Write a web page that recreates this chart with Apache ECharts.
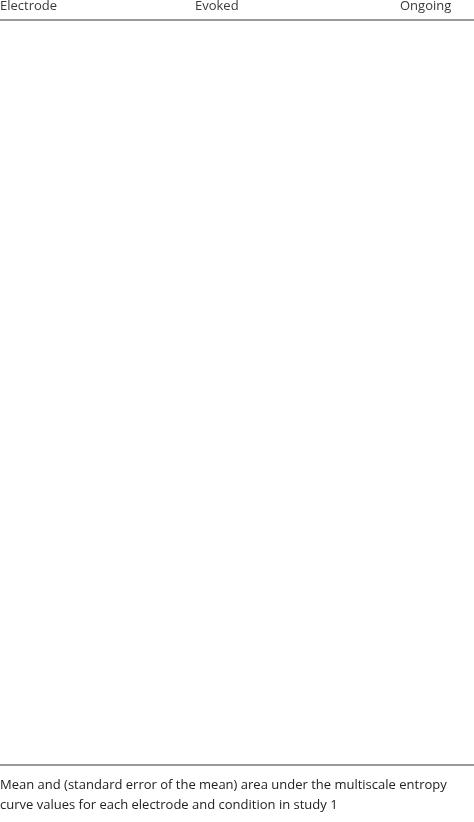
<!DOCTYPE html>
<html><head><meta charset="utf-8">
<script src="https://cdn.jsdelivr.net/npm/echarts@6/dist/echarts.min.js"></script>
<style>html,body{margin:0;padding:0;background:#fff}#c{width:474px;height:822px}</style>
</head><body><div id="c"></div>
<script>
const headers = ['Electrode','Evoked','Ongoing'];
const electrodes = ['FP1','FP2','F9','F7','F3','FZ','F4','F8','F10','FC5','FC6','T7','C3','CZ','C4','T8','TP9','CP5','CP6','TP10','P7','P3','PZ','P4','P8','O1','O2'];
const evoked = ['89.61 (1.58)','89.46 (1.56)','85.26 (1.55)','89.04 (1.66)','89.27 (1.72)','90.62 (1.38)','91.43 (1.51)','89.71 (1.55)','86.56 (1.45)','91.11 (1.51)','92.39 (1.83)','87.66 (1.83)','86.21 (1.66)','89.00 (1.54)','88.88 (1.79)','91.71 (1.87)','90.44 (1.56)','94.04 (1.24)','93.38 (1.41)','88.46 (1.63)','94.45 (1.51)','90.18 (1.52)','88.10 (1.59)','90.47 (1.50)','95.20 (1.26)','91.69 (1.27)','92.23 (1.14)'];
const ongoing = ['89.20 (1.59)','89.92 (1.46)','84.71 (1.69)','89.49 (1.55)','89.43 (1.70)','90.22 (1.48)','92.38 (1.66)','89.63 (1.53)','84.51 (1.51)','92.11 (1.75)','91.82 (1.73)','88.25 (1.85)','86.31 (1.68)','88.87 (1.64)','89.02 (1.69)','89.52 (1.91)','93.29 (1.57)','93.00 (1.28)','93.48 (1.47)','92.67 (1.45)','95.20 (1.51)','87.76 (1.44)','87.66 (1.74)','88.41 (1.65)','95.77 (1.22)','92.36 (0.99)','92.14 (1.15)'];
const caption = 'Mean and (standard error of the mean) area under the multiscale entropy\ncurve values for each electrode and condition in study 1';

const colX = [0, 195, 400];
const cols = [electrodes, evoked, ongoing];
const txtColor = '#3a3a3a';
const chart = echarts.init(document.getElementById('c'));
const n = electrodes.length;
const rowH = 27.6;
const gridTop = 20;
chart.setOption({
  animation:false,
  grid:{left:0,right:0,top:gridTop,height:rowH*n},
  xAxis:[
    {type:'value',min:0,max:474,position:'top',axisLine:{show:true,onZero:false,lineStyle:{color:'#999',width:2}},axisTick:{show:false},axisLabel:{show:false},splitLine:{show:false}},
    {type:'value',min:0,max:474,position:'bottom',axisLine:{show:true,onZero:false,lineStyle:{color:'#999',width:2}},axisTick:{show:false},axisLabel:{show:false},splitLine:{show:false}}
  ],
  yAxis:{type:'category',inverse:true,data:electrodes,show:false},
  graphic: headers.map((h,i)=>({type:'text',left:colX[i],top:0,style:{text:h,fill:txtColor,font:'13px "Open Sans"'}}))
    .concat([{type:'text',left:0,top:gridTop+rowH*n+10,style:{text:caption,fill:'#222',font:'13px "Open Sans"',lineHeight:20}}]),
  series: cols.map((arr,i)=>({
    type:'scatter',symbolSize:1,xAxisIndex:0,itemStyle:{opacity:0},
    data: arr.map((v,j)=>({value:[colX[i],electrodes[j]],name:v})),
    label:{show:true,position:'right',distance:-1,formatter:p=>p.name,fontFamily:'Open Sans',fontSize:13,color:txtColor}
  }))
});
</script></body></html>
